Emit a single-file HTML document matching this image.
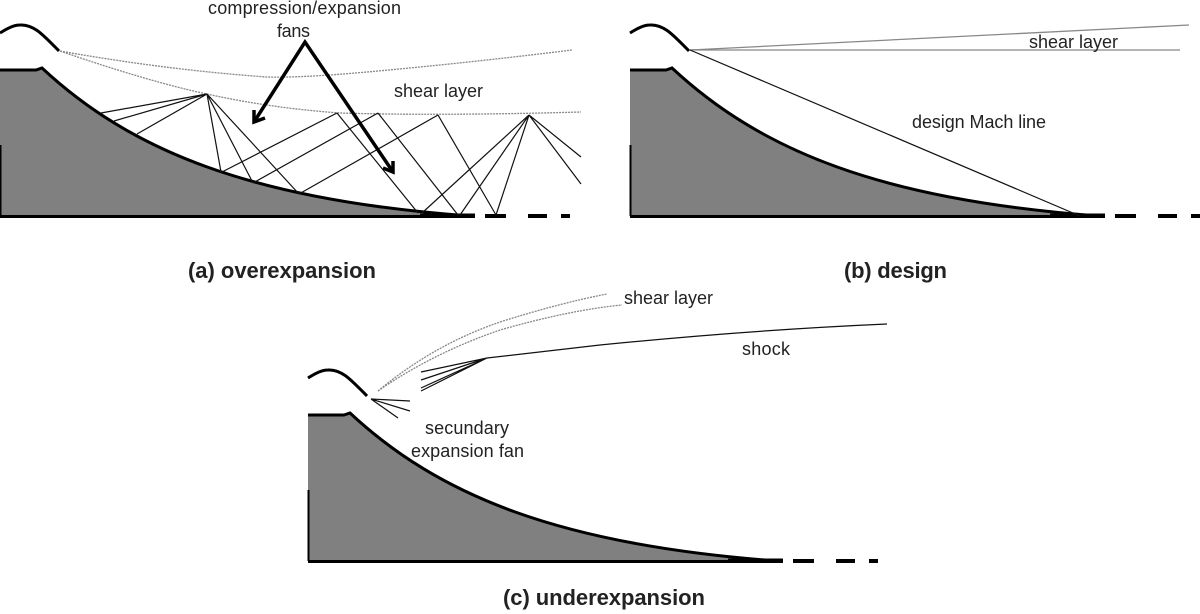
<!DOCTYPE html>
<html><head><meta charset="utf-8"><style>
html,body{margin:0;padding:0;background:#fff}
svg{display:block}
text{font-family:"Liberation Sans",sans-serif;font-size:18px;fill:#222}
.t{font-weight:bold;font-size:22px;fill:#222}
.l{fill:none;stroke:#111;stroke-width:1.2}
.s{fill:none;stroke:#888;stroke-width:1.3}
.k{fill:none;stroke:#000;stroke-width:3}
</style></head><body>
<svg width="1200" height="614" viewBox="0 0 1200 614" xmlns="http://www.w3.org/2000/svg">
<defs>
<g id="nozzle">
<path fill="#808080" d="M0 70H36L42 68C130 150 250 200 470 216H0Z"/>
<path class="k" d="M0 70H36L42 68C130 150 250 200 470 216"/>
<path class="k" d="M0 216.5H475"/>
<path class="k" d="M0 33C8 28 14 25 20 25C34 24 44 36 59 51"/>
<line x1="0.5" y1="145" x2="0.5" y2="216" stroke="#000" stroke-width="2"/>
<path d="M420 215.5H475M485 216H506M528 216H547M561 216H570" stroke="#000" stroke-width="4" fill="none"/>
</g>
</defs>

<!-- Panel a -->
<use href="#nozzle"/>
<path class="s" stroke-dasharray="2 1" d="M60 51 Q167 70 267 77 Q300 78 367 72 Q467 63 572 50"/>
<path class="s" stroke-dasharray="2 1" d="M60 51 Q150 82 207 94 Q270 108 340 113 Q440 116 581 112"/>
<path class="l" d="M207 94L101 113M207 94L114 121M207 94L137 134M207 94L221 172M207 94L253 183M207 94L299 194
M337 113L222 172M378 113L253 183M438 115L299 194M337 113L418 213M378 113L458 215M438 115L496 215
M529 115L422 213M529 115L460 215M529 115L496 215M529 115L581 157M529 115L581 184"/>
<g fill="none" stroke="#000" stroke-width="3.5">
<path d="M254 122L305 42L393 172"/>
<path d="M254 110L254 122L265 118"/>
<path d="M383 168L393 172L393 161"/>
</g>
<text x="208" y="14" textLength="193">compression/expansion</text>
<text x="277" y="37" textLength="33">fans</text>
<text x="394" y="97" textLength="89">shear layer</text>
<text class="t" x="188" y="278" textLength="188">(a) overexpansion</text>

<!-- Panel b -->
<use href="#nozzle" x="630"/>
<path class="s" d="M690 50L1189 25"/>
<path class="s" d="M690 50H1180"/>
<path class="l" d="M690 50L1080 216"/>
<text x="1029" y="48" textLength="89">shear layer</text>
<text x="912" y="128" textLength="134">design Mach line</text>
<text class="t" x="844" y="278" textLength="103">(b) design</text>

<!-- Panel c -->
<use href="#nozzle" x="308" y="345"/>
<path class="l" d="M371 399L410 401M371 399L410 411M371 399L398 418"/>
<path class="s" stroke-dasharray="2 1" d="M378 391Q433 345 500 322Q560 303 607 294"/>
<path class="s" stroke-dasharray="2 1" d="M378 391Q433 353 500 330Q570 310 622 305"/>
<path class="l" stroke-width="1.5" d="M487 358L600 345Q750 330 887 324"/>
<path class="l" d="M487 358L421 372M487 358L421 380M487 358L421 388M487 358L421 391"/>
<text x="624" y="304" textLength="89">shear layer</text>
<text x="742" y="355" textLength="48">shock</text>
<text x="425" y="434" textLength="84">secundary</text>
<text x="411" y="457" textLength="113">expansion fan</text>
<text class="t" x="503" y="605" textLength="202">(c) underexpansion</text>
</svg>
</body></html>
